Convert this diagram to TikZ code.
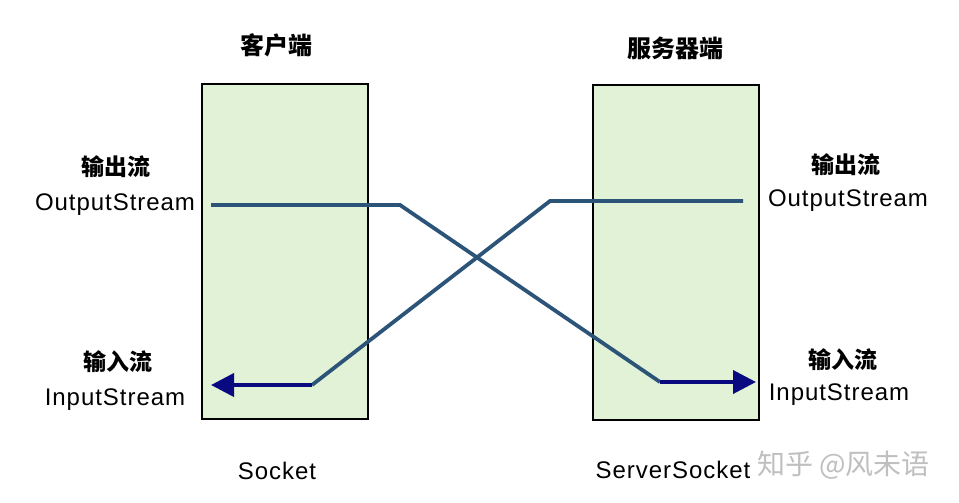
\documentclass[tikz,border=0pt]{standalone}
\usepackage{fontspec}
\setmainfont{Liberation Sans}
\newfontfamily\cjk{Noto Sans CJK SC}
\usetikzlibrary{arrows.meta}
\definecolor{boxfill}{HTML}{E2F2D6}
\definecolor{linecol}{HTML}{2B5478}
\definecolor{arrcol}{HTML}{0A0A80}
\tikzset{
  sidebox/.style={draw=black, line width=2.2pt, fill=boxfill},
  eng/.style={font=\fontsize{24}{26}\selectfont\addfontfeature{LetterSpace=4}, inner sep=0pt, anchor=center},
  chn/.style={font=\fontsize{23}{26}\selectfont\cjk\bfseries, inner sep=0pt, anchor=center},
  title/.style={font=\fontsize{24}{26}\selectfont\cjk\bfseries, inner sep=0pt},
  flow/.style={draw=linecol, line width=3.8pt, line join=miter},
  arr/.style={draw=arrcol, line width=3.8pt, -{Triangle[length=23pt,width=23pt]}},
  wmark/.style={font=\fontsize{28}{30}\selectfont\cjk, text=gray!50, inner sep=0pt}
}
\begin{document}
\begin{tikzpicture}[x=1pt,y=-1pt]
\useasboundingbox[fill=white] (0,0) rectangle (959,503);
\node[sidebox, minimum width=166pt, minimum height=335pt, inner sep=0pt, anchor=north west] (cbox) at (201,83) {};
\node[sidebox, minimum width=166pt, minimum height=335pt, inner sep=0pt, anchor=north west] (sbox) at (592,84) {};
\node[title] (ct) at (276,45) {客户端};
\node[title] (st) at (675,48) {服务器端};
\node[chn] (cout1) at (116,167) {输出流};
\node[eng] (cout2) at (115,205) {OutputStream};
\node[chn] (cin1) at (118,362) {输入流};
\node[eng] (cin2) at (115,400) {InputStream};
\node[chn] (sout1) at (846,165) {输出流};
\node[eng] (sout2) at (848,201) {OutputStream};
\node[chn] (sin1) at (843,360) {输入流};
\node[eng] (sin2) at (839,395) {InputStream};
\node[eng] (sock) at (277,471) {Socket};
\node[eng] (ssock) at (673,470) {ServerSocket};
\node[wmark, anchor=west] (wm) at (757,465) {知乎 @风未语};
\coordinate (a0) at (211,205);
\coordinate (a1) at (400,205);
\coordinate (a2) at (660,382);
\coordinate (a3) at (756,382);
\coordinate (b0) at (743,201);
\coordinate (b1) at (550,201);
\coordinate (b2) at (312,385);
\coordinate (b3) at (211,385);
\draw[flow] (a0) -- (a1) -- (a2);
\draw[flow] (b0) -- (b1) -- (b2);
\draw[arr] (a2) -- (a3);
\draw[arr] (b2) -- (b3);
\end{tikzpicture}
\end{document}
